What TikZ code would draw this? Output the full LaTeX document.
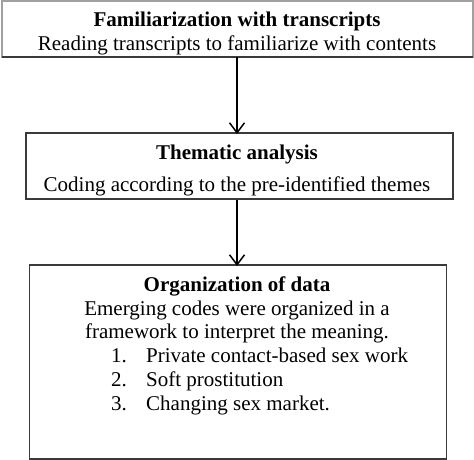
\documentclass[tikz,border=0pt]{standalone}
\usepackage{fontspec}
\setmainfont{Liberation Serif}
\usetikzlibrary{arrows.meta}
\definecolor{edge}{HTML}{3A3A3A}
\definecolor{lightedge}{HTML}{A0A0A0}
\begin{document}
\begin{tikzpicture}[x=1pt,y=-1pt,
  box/.style={draw=edge,line width=1.5pt,inner sep=0pt,fill=white},
  txt/.style={inner sep=0pt,anchor=base,font=\fontsize{21}{24}\selectfont},
  ttl/.style={txt,font=\fontsize{21}{24}\selectfont\bfseries},
  itm/.style={txt,anchor=base west},
  flow/.style={draw=black,line width=1.5pt,-{Straight Barb[length=10pt,width=15pt,line width=1.5pt]}}]
\useasboundingbox (0,0) rectangle (474,460);
% boxes
\path[box,draw=lightedge] (2,1) rectangle (473,57);
\coordinate (b1sw) at (2,57);
\coordinate (b1se) at (473,57);
\draw[edge,line width=1.5pt] (b1sw) -- (b1se);
\node[box,minimum width=427pt,minimum height=66pt,anchor=north west] (b2) at (25,132) {};
\node[box,minimum width=417pt,minimum height=194pt,anchor=north west] (b3) at (28.5,264) {};
\coordinate (b1) at (237,57);
% texts box 1
\node[ttl] (t1) at (237,27) {Familiarization with transcripts};
\node[txt] (s1) at (237,51) {Reading transcripts to familiarize with contents};
% texts box 2
\node[ttl] (t2) at (237,159) {Thematic analysis};
\node[txt] (s2) at (237,191) {Coding according to the pre-identified themes};
% texts box 3
\node[ttl] (t3) at (237,291) {Organization of data};
\node[txt] (l1) at (237,315) {Emerging codes were organized in a};
\node[txt] (l2) at (237,338) {framework to interpret the meaning.};
\node[itm] (n1) at (111,362) {1.};
\node[itm] (i1) at (146,362) {Private contact-based sex work};
\node[itm] (n2) at (111,386) {2.};
\node[itm] (i2) at (146,386) {Soft prostitution};
\node[itm] (n3) at (111,410) {3.};
\node[itm] (i3) at (146,410) {Changing sex market.};
% arrows
\draw[flow] (b1) -- ([yshift=-2pt]b1 |- b2.north);
\draw[flow] (b1 |- b2.south) -- ([yshift=-2pt]b1 |- b3.north);
\end{tikzpicture}
\end{document}
